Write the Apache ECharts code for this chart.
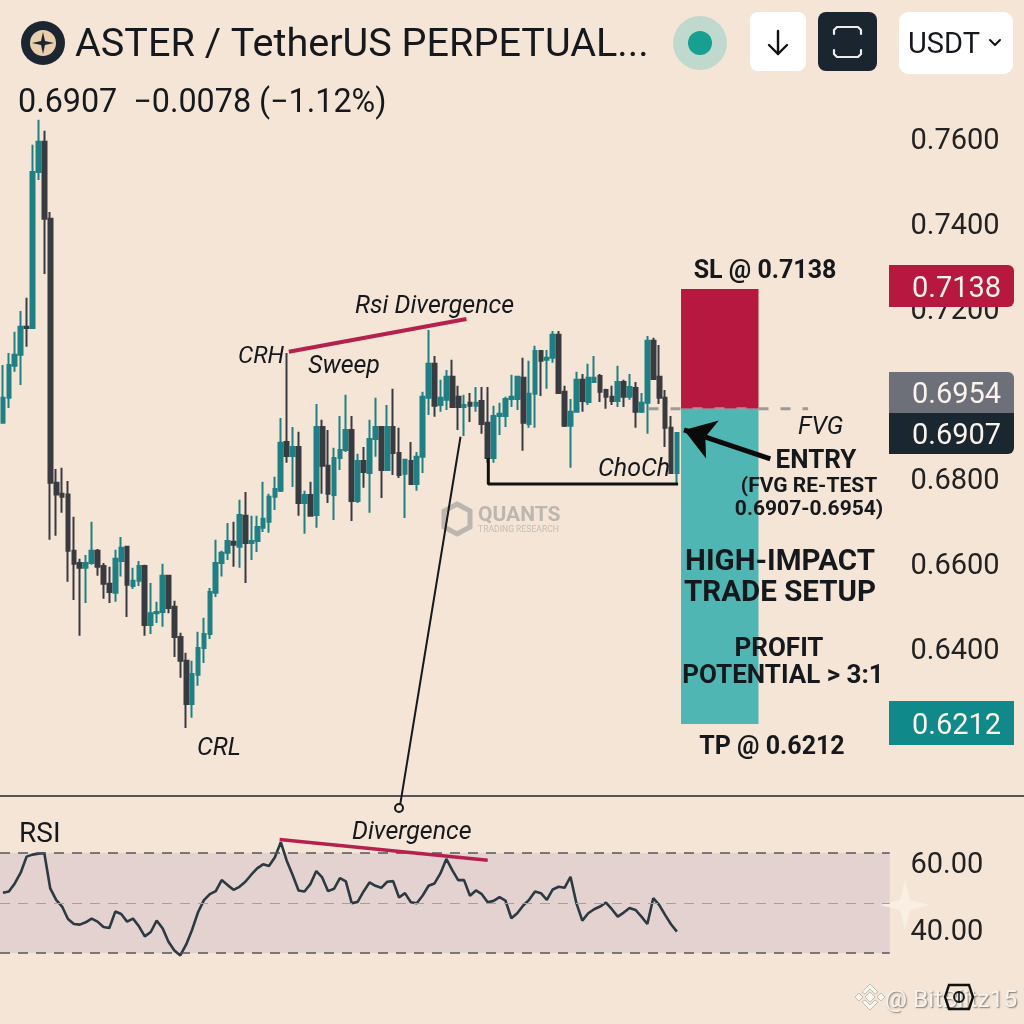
<!DOCTYPE html>
<html><head><meta charset="utf-8">
<style>html,body{margin:0;padding:0;background:#f5e5d6}#c{width:1024px;height:1024px}</style>
<script src="https://cdn.jsdelivr.net/npm/echarts@6/dist/echarts.min.js"></script>
</head><body><div id="c"></div>
<script>
const candleOpen=[.6930,.6989,.7064,.7090,.7156,.7153,.7520,.7591,.7410,.6789,.6763,.6761,.6629,.6600,.6589,.6600,.6629,.6593,.6551,.6530,.6605,.6638,.6546,.6558,.6593,.6454,.6482,.6485,.6570,.6497,.6426,.6370,.6268,.6337,.6400,.6433,.6530,.6600,.6624,.6650,.6638,.6711,.6647,.6652,.6683,.6697,.6756,.6770,.6885,.6852,.6873,.6741,.6760,.6713,.6920,.6829,.6760,.6847,.6866,.6913,.6746,.6840,.6812,.6892,.6920,.6819,.6920,.6859,.6810,.6840,.6786,.6850,.6989,.7069,.6972,.6984,.7038,.6991,.6967,.6977,.6970,.6981,.6930,.6847,.6946,.6946,.6986,.6986,.7036,.6927,.6998,.7099,.7078,.7083,.7137,.7003,.6923,.6956,.7031,.6979,.7026,.7040,.7007,.6991,.6981,.7026,.6991,.7012,.6956,.6977,.7123,.7038,.6989,.6918,.6812];
const candleClose=[.6989,.7066,.7090,.7156,.7153,.7520,.7591,.7410,.6789,.6761,.6756,.6629,.6598,.6589,.6600,.6629,.6591,.6551,.6532,.6610,.6636,.6549,.6558,.6593,.6454,.6482,.6485,.6570,.6494,.6426,.6370,.6268,.6339,.6400,.6433,.6532,.6600,.6624,.6652,.6643,.6713,.6647,.6652,.6685,.6704,.6756,.6774,.6883,.6852,.6873,.6741,.6760,.6711,.6920,.6829,.6763,.6847,.6866,.6913,.6746,.6840,.6814,.6892,.6920,.6819,.6920,.6859,.6807,.6843,.6786,.6850,.6991,.7069,.6970,.6989,.7038,.6967,.6967,.6972,.6970,.6977,.6927,.6847,.6946,.6951,.6986,.6991,.7038,.6930,.6998,.7099,.7076,.7083,.7137,.7000,.6923,.6956,.7031,.6981,.7036,.7036,.7003,.6991,.6981,.7026,.6991,.7014,.6956,.6977,.7123,.7033,.6989,.6918,.6812,.6906];
const candleLow=[.6930,.6965,.7050,.7019,.7109,.7153,.7501,.7280,.6655,.6664,.6718,.6556,.6513,.6429,.6506,.6596,.6570,.6516,.6506,.6509,.6568,.6473,.6539,.6546,.6429,.6433,.6459,.6450,.6482,.6379,.6330,.6212,.6236,.6311,.6365,.6421,.6520,.6568,.6607,.6591,.6589,.6553,.6607,.6626,.6673,.6671,.6725,.6767,.6836,.6779,.6711,.6669,.6709,.6683,.6763,.6741,.6701,.6819,.6861,.6699,.6741,.6777,.6718,.6850,.6753,.6819,.6807,.6800,.6706,.6784,.6770,.6812,.6948,.6944,.6956,.6960,.6967,.6913,.6899,.6932,.6956,.6904,.6836,.6836,.6901,.6920,.6967,.6960,.6864,.6918,.6918,.6993,.7010,.7071,.7000,.6920,.6824,.6956,.6956,.6972,.7026,.6979,.6963,.6972,.6967,.6967,.6984,.6918,.6953,.6904,.7033,.6974,.6873,.6812,.6789];
const candleHigh=[.7066,.7094,.7144,.7193,.7224,.7584,.7643,.7617,.7426,.6821,.6824,.6793,.6709,.6610,.6619,.6697,.6633,.6600,.6591,.6631,.6661,.6640,.6589,.6605,.6596,.6553,.6509,.6598,.6572,.6511,.6436,.6389,.6370,.6438,.6471,.6541,.6655,.6629,.6694,.6697,.6749,.6767,.6711,.6711,.6791,.6763,.6803,.6941,.7094,.6920,.6909,.6770,.6791,.6974,.6937,.6913,.6871,.6946,.6996,.6946,.6857,.6873,.6937,.6989,.6920,.6972,.7010,.6918,.6845,.6885,.6861,.7003,.7148,.7087,.7031,.7054,.7078,.7017,.6996,.7000,.7014,.7014,.7014,.6970,.6977,.6991,.7043,.7040,.7083,.7076,.7111,.7101,.7101,.7146,.7146,.7017,.6986,.7050,.7045,.7069,.7087,.7045,.7010,.7017,.7064,.7031,.7045,.7026,.7000,.7134,.7130,.7113,.7007,.6946,.6906];
const rsiValues=[50.8,51.2,53.6,56.8,61.6,62.2,62.5,62.6,52.1,48.7,46.7,43.0,41.5,41.3,42.0,43.1,42.2,40.6,40.3,45.2,44.5,42.2,43.1,40.8,37.8,39.1,42.5,40.2,36.2,33.6,32.1,35.4,39.8,45.0,48.6,50.4,51.3,54.6,53.1,51.7,52.6,54.1,56.2,58.1,59.3,58.8,61.4,65.9,60.4,56.1,51.5,51.2,53.4,57.3,55.4,51.3,52.0,55.2,54.2,47.7,48.1,51.2,53.9,52.9,52.3,54.1,54.3,49.4,50.7,48.0,47.7,50.0,52.9,53.6,56.6,60.9,57.6,54.6,54.6,49.9,51.5,50.4,48.0,48.4,49.5,48.5,43.2,44.7,47.0,48.7,51.2,50.7,48.7,51.8,52.6,52.3,55.6,47.7,42.5,44.7,45.9,46.7,47.9,45.9,43.7,44.9,46.3,45.7,43.7,41.5,49.2,47.2,44.2,41.4,39.2];
const priceTicks=['0.7600','0.7400','0.7200','0.6800','0.6600','0.6400'];
const rsiTicks=['60.00','40.00'];
const slBox=[115.2,128.3,0.7245,0.6963];
const tpBox=[115.2,128.3,0.6963,0.6221];
const rsiDivPrice=[[48.86,0.7097],[78.9,0.7174]];
const chochLine=[[82.6,0.6847],[82.6,0.6786],[114.7,0.6786]];
const fvgLine=[[109.7,0.6963],[136.7,0.6963]];
const linkLine=[[77.9,0.6897],[67.6,0.6024]];
const entryArrow=[[130.3,0.6845],[115.7,0.6913]];
const rsiDivLine=[[47.3,66.7],[82.5,60.5]];
const rsiBand=[0,150.5,62.7,32.8,47.8];

const totalBars=153;
const cats=Array.from({length:totalBars},(_,i)=>String(i));
const candles=candleOpen.map((o,i)=>[o,candleClose[i],candleLow[i],candleHigh[i]]);
const INK='#15181c',RED='#b7183f',TEAL='#1f8084',DARK='#383b40';
const F='Roboto, sans-serif';
const txt=(t,x,y,size,o={})=>({type:'text',z:o.z||50,silent:true,style:{text:t,x,y:y+2+size*0.05,fill:o.fill||INK,
  font:`${o.style||'normal'} ${o.weight||'normal'} ${size}px ${F}`,textAlign:o.align||'left',textVerticalAlign:'middle',
  textShadowColor:o.shadow,textShadowBlur:o.shadow?1.5:0,textShadowOffsetX:o.shadow?1:0,textShadowOffsetY:o.shadow?1:0}});
const it=(t,x,y,size=25,align='left')=>txt(t,x,y,size,{style:'italic',align});
const bd=(t,x,y,size)=>txt(t,x,y,size,{weight:'bold',align:'center'});
const badge=(t,y0,y1,color,r)=>[
  {type:'rect',z:40,silent:true,shape:{x:889,y:y0,width:125,height:y1-y0,r},style:{fill:color}},
  txt(t,912,(y0+y1)/2,29,{fill:'#fbf3ec',z:41})];
const diamond=(cx,cy,r,fill)=>({type:'polygon',z:45,silent:true,shape:{points:[[cx-r,cy],[cx,cy-r],[cx+r,cy],[cx,cy+r]]},style:{fill,stroke:'#b8b0a6',lineWidth:.8}});
const star=(cx,cy,r,k,fill,z)=>({type:'polygon',z,silent:true,shape:{points:[[cx,cy-r],[cx+k,cy-k],[cx+r,cy],[cx+k,cy+k],[cx,cy+r],[cx-k,cy+k],[cx-r,cy],[cx-k,cy-k]]},style:{fill}});
const stroke=(pts,c,w,z=46)=>({type:'polyline',z,silent:true,shape:{points:pts},style:{stroke:c,lineWidth:w,fill:'none',lineCap:'round',lineJoin:'round'}});

const graphics=[
  // separator
  {type:'line',z:5,silent:true,shape:{x1:0,y1:796,x2:1024,y2:796},style:{stroke:'#22262a',lineWidth:1.5}},
  {type:'circle',z:46,silent:true,shape:{cx:399,cy:808,r:4},style:{fill:'#f5e5d6',stroke:'#15181c',lineWidth:2}},
  // header
  {type:'circle',z:45,silent:true,shape:{cx:43,cy:43,r:22},style:{fill:'#1c2630'}},
  {type:'circle',z:46,silent:true,shape:{cx:43,cy:43,r:13},style:{fill:'#e8cfae'}},
  star(43,43,11,2,'#1c2630',47),
  txt('ASTER / TetherUS PERPETUAL...',75,42,39.6),
  txt('0.6907  \u22120.0078 (\u22121.12%)',18,100,32.3),
  {type:'circle',z:45,silent:true,shape:{cx:700,cy:43,r:27},style:{fill:'#bfd9cf'}},
  {type:'circle',z:46,silent:true,shape:{cx:700,cy:43,r:12},style:{fill:'#17a08f'}},
  {type:'rect',z:45,silent:true,shape:{x:750,y:12,width:56,height:59,r:8},style:{fill:'#ffffff'}},
  stroke([[778,31],[778,54]],'#111',2.4),
  stroke([[769,45],[778,54],[787,45]],'#111',2.4),
  {type:'rect',z:45,silent:true,shape:{x:818,y:12,width:59,height:59,r:8},style:{fill:'#1a2530'}},
  stroke([[834,34],[834,30],[837,27],[858,27],[861,30],[861,34]],'#f0ede8',2.2),
  stroke([[834,50],[834,54],[837,57],[858,57],[861,54],[861,50]],'#f0ede8',2.2),
  {type:'rect',z:45,silent:true,shape:{x:899,y:12,width:114,height:62,r:9},style:{fill:'#ffffff'}},
  txt('USDT',908,42,29),
  stroke([[990,40],[995,45],[1000,40]],'#111',2),
  // badges
  ...badge('0.7138',265,307,RED,[0,6,6,0]),
  ...badge('0.6954',372,413,'#6d7078',[0,6,0,0]),
  ...badge('0.6907',413,454,'#1a2630',[0,0,6,0]),
  ...badge('0.6212',701,745,'#10898a',[0,0,0,0]),
  // annotations
  bd('SL @ 0.7138',765,268,25),
  bd('TP @ 0.6212',772,744,25),
  it('Rsi Divergence',355,303),
  it('CRH',238,354,24),
  it('Sweep',308,363),
  it('CRL',197,745),
  it('ChoCh',598,466),
  it('FVG',798,424),
  it('Divergence',352,829),
  txt('RSI',19,832,28),
  bd('ENTRY',816,458,26),
  bd('(FVG RE-TEST',809,484,21),
  bd('0.6907-0.6954)',809,507,21),
  bd('HIGH-IMPACT',780,559,29.5),
  bd('TRADE SETUP',780,590,29.5),
  bd('PROFIT',779,646,26),
  bd('POTENTIAL > 3:1',783,673,26),
  // watermark
  {type:'polygon',z:4,silent:true,shape:{points:[[457,504],[470,511],[470,527],[457,534],[444,527],[444,511]]},style:{fill:'none',stroke:'#bdb6ae',lineWidth:5}},
  {type:'text',z:4,silent:true,style:{text:'QUANTS',x:478,y:516,fill:'#bdb6ae',font:`bold 21px ${F}`,textVerticalAlign:'middle'}},
  {type:'text',z:4,silent:true,style:{text:'TRADING RESEARCH',x:478,y:530,fill:'#c4bdb5',font:`8.6px ${F}`,textVerticalAlign:'middle'}},
  // sparkle
  star(905,905,25,5,'#f9efe3',3),
  // footer
  diamond(870,997,5,'#fbf7f1'),diamond(859,997,4,'#fbf7f1'),diamond(881,997,4,'#fbf7f1'),
  {type:'polygon',z:45,silent:true,shape:{points:[[870,984],[878,992],[875,994],[870,989],[865,994],[862,992]]},style:{fill:'#fbf7f1',stroke:'#b8b0a6',lineWidth:.8}},
  {type:'polygon',z:45,silent:true,shape:{points:[[870,1010],[878,1002],[875,1000],[870,1005],[865,1000],[862,1002]]},style:{fill:'#fbf7f1',stroke:'#b8b0a6',lineWidth:.8}},
  txt('@ BitBlitz15',885,998,24.5,{fill:'#f8f3ec',shadow:'#7d7873'}),
  {type:'polygon',z:52,silent:true,shape:{points:[[949,985],[969,985],[973,997],[969,1009],[949,1009],[945,997]]},style:{fill:'none',stroke:'#111',lineWidth:2.4}},
  {type:'circle',z:52,silent:true,shape:{cx:959,cy:997,r:5},style:{fill:'none',stroke:'#111',lineWidth:1.8}},
  stroke([[959,992],[959,1002]],'#111',1.5,52)
];

const overlay=(name,data,color,width,extra={})=>Object.assign({name,type:'line',xAxisIndex:1,yAxisIndex:0,data,symbol:'none',silent:true,animation:false,z:6,
  lineStyle:{color,width}},extra);

const option={
  animation:false,backgroundColor:'#f5e5d6',graphic:graphics,tooltip:{show:false},
  grid:[{left:-1.26,top:53,width:905.76,height:850},{left:-1.26,top:795,width:905.76,height:201}],
  xAxis:[
    {type:'category',gridIndex:0,data:cats,show:false},
    {type:'value',gridIndex:0,min:0,max:totalBars,show:false},
    {type:'category',gridIndex:1,data:cats,show:false},
    {type:'value',gridIndex:1,min:0,max:totalBars,show:false}
  ],
  yAxis:[
    {type:'value',gridIndex:0,position:'right',min:0.58,max:0.78,interval:0.02,splitLine:{show:false},axisLine:{show:false},axisTick:{show:false},
     axisLabel:{margin:6,verticalAlign:'top',lineHeight:7,fontFamily:F,fontSize:29,color:'#222',showMinLabel:false,showMaxLabel:false,
       formatter:v=>priceTicks.includes(v.toFixed(4))?v.toFixed(4):''}},
    {type:'value',gridIndex:1,position:'right',min:20,max:80,interval:20,splitLine:{show:false},axisLine:{show:false},axisTick:{show:false},
     axisLabel:{margin:6,verticalAlign:'top',lineHeight:7,fontFamily:F,fontSize:29,color:'#222',showMinLabel:false,showMaxLabel:false,
       formatter:v=>rsiTicks.includes(v.toFixed(2))?v.toFixed(2):''}}
  ],
  series:[
    {name:'boxes',type:'line',xAxisIndex:1,yAxisIndex:0,data:[[slBox[0],slBox[2]]],symbol:'none',silent:true,z:1,lineStyle:{opacity:0},
     markArea:{silent:true,data:[
       [{coord:[slBox[0],slBox[2]],itemStyle:{color:RED}},{coord:[slBox[1],slBox[3]]}],
       [{coord:[tpBox[0],tpBox[2]],itemStyle:{color:'#4fb6b3'}},{coord:[tpBox[1],tpBox[3]]}]
     ]}},
    {name:'price',type:'candlestick',xAxisIndex:0,yAxisIndex:0,data:candles,barWidth:4.2,z:3,
     itemStyle:{color:TEAL,color0:DARK,borderColor:TEAL,borderColor0:DARK,borderWidth:2}},
    overlay('rsiDivPrice',rsiDivPrice,'#b5214f',4),
    overlay('choch',chochLine,'#111',3),
    overlay('fvg',fvgLine,'#9b9a9a',3,{lineStyle:{color:'#9b9a9a',width:3,type:[10,12]}}),
    overlay('link',linkLine,'#15181c',2),
    {name:'entry',type:'line',xAxisIndex:1,yAxisIndex:0,data:[entryArrow[0]],symbol:'none',silent:true,z:7,
     markLine:{silent:true,symbol:['none','arrow'],symbolSize:30,label:{show:false},lineStyle:{color:'#0a0a0a',width:5,type:'solid'},
       data:[[{coord:entryArrow[0]},{coord:entryArrow[1]}]]}},
    {name:'band',type:'line',xAxisIndex:3,yAxisIndex:1,data:[[rsiBand[0],rsiBand[2]]],symbol:'none',silent:true,z:1,lineStyle:{opacity:0},
     markArea:{silent:true,itemStyle:{color:'#e3d2cf'},data:[[{coord:[rsiBand[0],rsiBand[2]]},{coord:[rsiBand[1],rsiBand[3]]}]]},
     markLine:{silent:true,symbol:'none',label:{show:false},data:[
       [{coord:[rsiBand[0],rsiBand[2]],lineStyle:{color:'#55565a',width:1.5,type:[10,8]}},{coord:[rsiBand[1],rsiBand[2]]}],
       [{coord:[rsiBand[0],rsiBand[3]],lineStyle:{color:'#55565a',width:1.5,type:[10,8]}},{coord:[rsiBand[1],rsiBand[3]]}],
       [{coord:[rsiBand[0],rsiBand[4]],lineStyle:{color:'#a5a09c',width:1.2,type:[10,8]}},{coord:[rsiBand[1],rsiBand[4]]}]
     ]}},
    {name:'RSI',type:'line',xAxisIndex:2,yAxisIndex:1,data:rsiValues,symbol:'none',z:4,silent:true,lineStyle:{color:'#2b3a42',width:2.6}},
    {name:'rsiDiv',type:'line',xAxisIndex:3,yAxisIndex:1,data:rsiDivLine,symbol:'none',z:5,silent:true,lineStyle:{color:'#b5214f',width:3.5}}
  ]
};
const chart=echarts.init(document.getElementById('c'),null,{renderer:'canvas'});
chart.setOption(option);
</script></body></html>
